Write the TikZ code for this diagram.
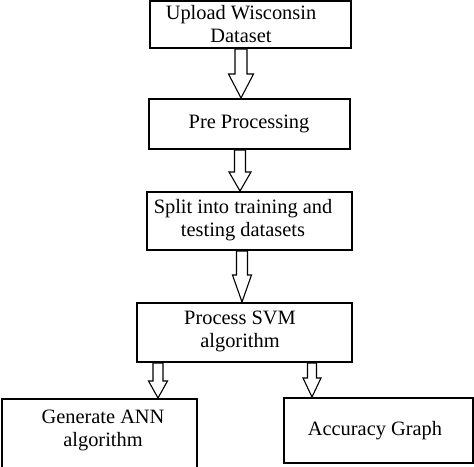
\documentclass[tikz,border=0pt]{standalone}
\usepackage{fontspec}
\setmainfont{Liberation Serif}
\begin{document}
\begin{tikzpicture}[x=1pt,y=-1pt,
  boxline/.style={draw=black,line width=1.5pt},
  lbl/.style={align=center,font=\fontsize{20.4}{23}\selectfont,inner sep=0pt},
  barrow/.style={draw=black,line width=1.1pt,fill=white,line join=miter}]
\useasboundingbox (0,0) rectangle (474,466);
\clip (0,0) rectangle (474,466);
\fill[white] (0,0) rectangle (474,466);
% boxes
\draw[boxline] (150,1) rectangle (351,48);
\draw[boxline] (149,99) rectangle (350,149);
\draw[boxline] (147,192) rectangle (352,250);
\draw[boxline] (137,303) rectangle (352,362);
\draw[boxline] (2,399) rectangle (197,475);
\draw[boxline] (284,398) rectangle (473,463);
% labels
\node[lbl] (b1) at (241,24) {Upload Wisconsin\\Dataset};
\node[lbl] (b2) at (249,124) {Pre Processing};
\node[lbl] (b3) at (243,220) {Split into training and\\testing datasets};
\node[lbl] (b4) at (240,331) {Process SVM\\algorithm};
\node[lbl] (b5) at (103,430) {Generate ANN\\algorithm};
\node[lbl] (b6) at (375,431) {Accuracy Graph};
% block arrows: \barr{x}{ytop}{ybot}{shaft half}{head half}{head start}
\newcommand{\barr}[6]{%
  \draw[barrow] (#1-#4,#2) -- (#1+#4,#2) -- (#1+#4,#6) -- (#1+#5,#6) -- (#1,#3)
    -- (#1-#5,#6) -- (#1-#4,#6) -- cycle;}
\barr{241}{49}{98}{6}{12.5}{74}
\barr{240}{150}{191}{5.5}{11}{172}
\barr{242}{251}{302}{5.5}{9.5}{275}
\barr{158}{363}{398}{5}{9.5}{381}
\barr{312}{363}{397}{4.5}{9}{378}
\end{tikzpicture}
\end{document}
